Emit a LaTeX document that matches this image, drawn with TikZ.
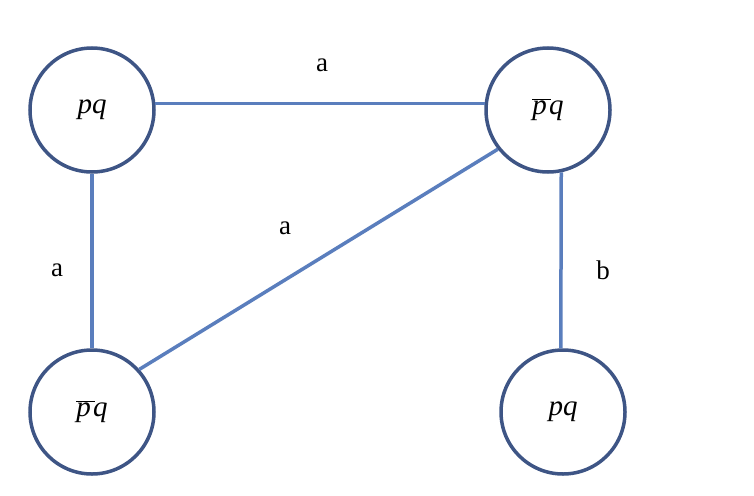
\documentclass[tikz,border=0pt]{standalone}
\usepackage{fontspec}
\setmainfont{Liberation Serif}
\begin{document}
\begin{tikzpicture}[x=1pt,y=-1pt,
  st/.style={circle,draw=cb,line width=3.5pt,minimum size=124pt,inner sep=0pt,font=\fontsize{29}{30}\selectfont\itshape},
  ed/.style={draw=ce,line width=3.5pt},
  lb/.style={font=\fontsize{27}{28}\selectfont}]
\definecolor{cb}{HTML}{3E5585}
\definecolor{ce}{HTML}{5A7EBD}
\useasboundingbox (0,0) rectangle (754,495);
\node[st] (tl) at (92,110) {pq};
\node[st] (tr) at (548,110) {$\overline{\textit{p}\,}$\kern-2pt q};
\node[st] (bl) at (92,412) {$\overline{\textit{p}\,}$\kern-2pt q};
\node[st] (br) at (563,412) {pq};
\draw[ed] (tl.6) -- (tr.174);
\draw[ed] (tl.-90) -- (bl.90);
\draw[ed] (bl.42) -- (tr.218);
\draw[ed] (tr.-78) -- (br.92);
\node[lb] (l1) at (322,65) {a};
\node[lb] (l2) at (285,228) {a};
\node[lb] (l3) at (57,270) {a};
\node[lb] (l4) at (603,270) {b};
\end{tikzpicture}
\end{document}
